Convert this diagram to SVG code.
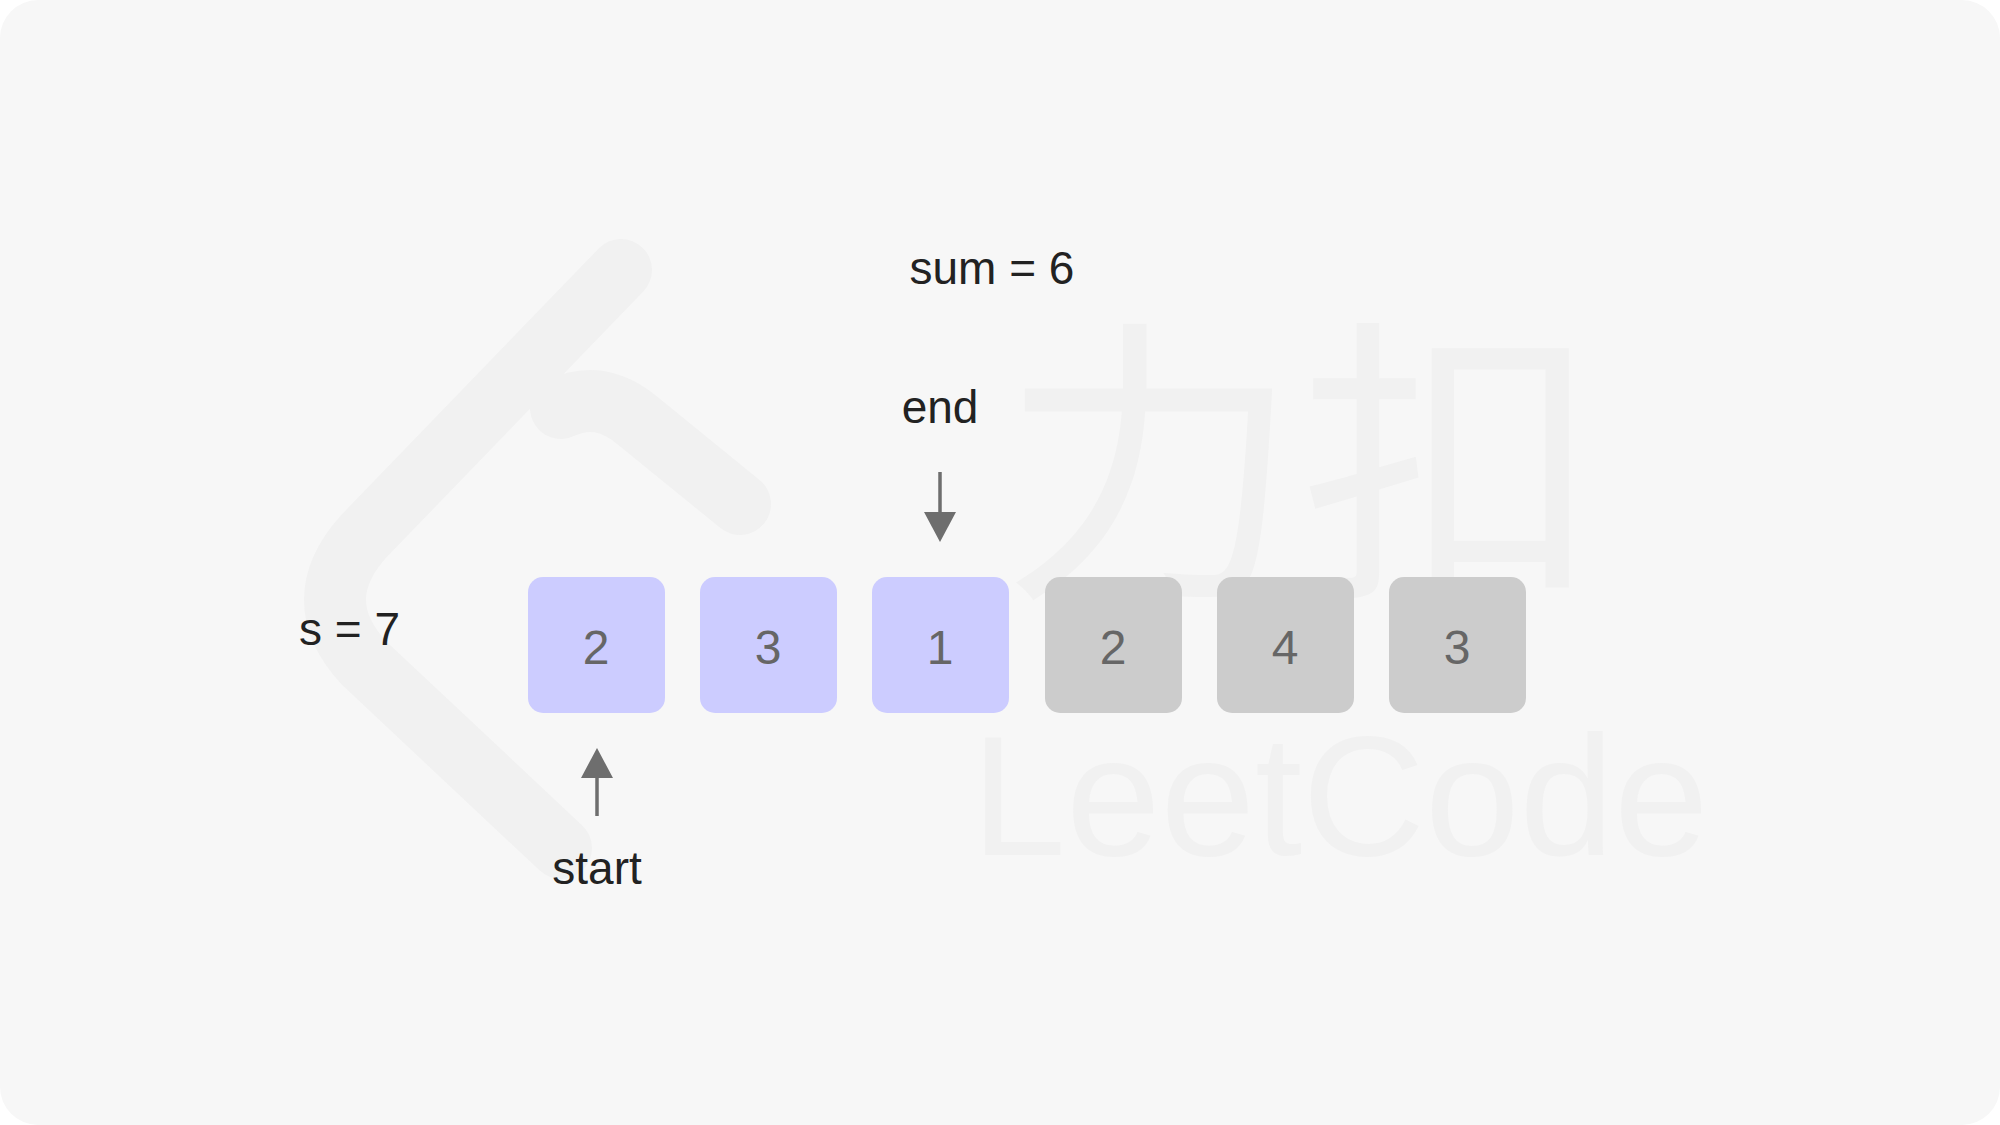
<svg xmlns="http://www.w3.org/2000/svg" width="2000" height="1125" viewBox="0 0 2000 1125">
<style>
.p{fill:#ccccff}
.g{fill:#cccccc}
.num{font-family:"Liberation Sans",Arial,sans-serif;font-size:48px;fill:#666;text-anchor:middle}
.lbl{font-family:"Liberation Sans",Arial,sans-serif;font-size:46px;fill:#222}
.wm{fill:#f1f1f1}
.ah{fill:#6e6e6e}
</style>
<rect width="2000" height="1125" fill="#ffffff"/>
<rect width="2000" height="1125" rx="38" fill="#f7f7f7"/>
<g id="watermark">
<path d="M621,270 L364,536 Q306,600 364,663 L561,848 M561,408 Q600,389 638,421 L740,504" fill="none" stroke="#f1f1f1" stroke-width="62" stroke-linecap="round" stroke-linejoin="round"/>
<text x="1300" y="575" font-family="'Noto Sans CJK SC',sans-serif" font-size="300" text-anchor="middle" class="wm">力扣</text>
<text x="1340" y="855" font-family="'Liberation Sans',Arial,sans-serif" font-size="170" text-anchor="middle" class="wm">LeetCode</text>
</g>
<g id="n0"><rect class="p" x="528" y="577" width="137" height="136" rx="15"/><text class="num" x="596" y="664">2</text></g>
<g id="n1"><rect class="p" x="700" y="577" width="137" height="136" rx="15"/><text class="num" x="768" y="664">3</text></g>
<g id="n2"><rect class="p" x="872" y="577" width="137" height="136" rx="15"/><text class="num" x="940" y="664">1</text></g>
<g id="n3"><rect class="g" x="1045" y="577" width="137" height="136" rx="15"/><text class="num" x="1113" y="664">2</text></g>
<g id="n4"><rect class="g" x="1217" y="577" width="137" height="136" rx="15"/><text class="num" x="1285" y="664">4</text></g>
<g id="n5"><rect class="g" x="1389" y="577" width="137" height="136" rx="15"/><text class="num" x="1457" y="664">3</text></g>
<g id="labels">
<text class="lbl" x="992" y="284" text-anchor="middle">sum = 6</text>
<text class="lbl" x="940" y="423" text-anchor="middle">end</text>
<text class="lbl" x="597" y="884" text-anchor="middle">start</text>
<text class="lbl" x="299" y="645">s = 7</text>
</g>
<g id="connectors">
<line x1="940" y1="472" x2="940" y2="520" stroke="#6e6e6e" stroke-width="3.5"/>
<polygon class="ah" points="924,512 956,512 940,542"/>
<line x1="597" y1="816" x2="597" y2="770" stroke="#6e6e6e" stroke-width="3.5"/>
<polygon class="ah" points="581,778 613,778 597,748"/>
</g>
</svg>
